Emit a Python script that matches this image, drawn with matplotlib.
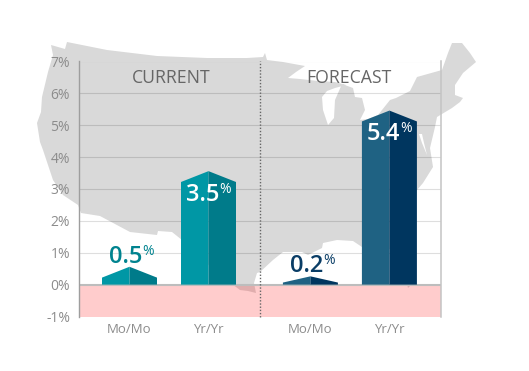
import matplotlib
matplotlib.use("Agg")
import matplotlib.pyplot as plt
from matplotlib.patches import Polygon

plt.rcParams['font.family'] = ['Open Sans', 'DejaVu Sans']

categories = ["Mo/Mo", "Yr/Yr", "Mo/Mo", "Yr/Yr"]
values = [0.5, 3.5, 0.2, 5.4]
positions = [0, 1, 2.29, 3.29]
panel_titles = ["CURRENT", "FORECAST"]
y_ticks = [-1, 0, 1, 2, 3, 4, 5, 6, 7]
y_labels = ["-1%", "0%", "1%", "2%", "3%", "4%", "5%", "6%", "7%"]

light_colors = ["#0097a5", "#0097a5", "#1f6283", "#1f6283"]
dark_colors = ["#007b8a", "#007b8a", "#00365f", "#00365f"]
label_colors = ["#00838f", "#ffffff", "#0a3d66", "#ffffff"]

W, H = 529, 371
# decorative background map outline, in image pixels
us_outline = [(67,42),(107,50),(157,56),(207,58),(247,58),(263,57),(265,53),(267,60),(283,62),(305,66),
 (296,72),(288,78),(300,79),(318,81),(335,82),(346,85),(335,88),(327,91),(322,97),(323,110),(328,125),
 (334,118),(335,100),(342,84),(353,88),(355,97),(362,98),(365,110),(360,120),(368,119),(378,115),(390,100),
 (396,98),(410,91),(417,77),(442,70),(448,53),(452,43),(462,43),(470,53),(476,62),(463,73),(455,85),(455,95),
 (463,98),(460,102),(452,108),(437,117),(435,127),(430,148),(433,167),(423,183),(417,190),(412,230),(411,285),
 (408,288),(404,270),(395,250),(375,247),(362,247),(353,241),(337,240),(323,243),(322,248),(308,255),(302,252),
 (283,252),(273,260),(260,272),(257,273),(254,283),(256,293),(248,291),(240,290),(232,284),(225,278),(205,262),
 (182,240),(172,232),(158,231),(157,235),(130,232),(100,216),(81,213),(78,205),(63,195),(53,180),(48,165),
 (43,150),(40,142),(37,123),(41,112),(42,97),(48,72),(53,55),(51,45),(65,49)]
bay = [(419,134),(422,143),(427,155),(424,143),(422,134)]

fig = plt.figure(figsize=(W/100, H/100), dpi=100, facecolor="white")

bg = fig.add_axes([0, 0, 1, 1], zorder=0)
bg.set_xlim(0, W); bg.set_ylim(H, 0); bg.axis("off")
bg.add_patch(Polygon(us_outline, closed=True, fc="#d9d9d9", ec="none"))
bg.add_patch(Polygon(bay, closed=True, fc="white", ec="none"))

left, right, top, bottom = 78.5, 441, 61.5, 316.5
ax = fig.add_axes([left/W, 1-bottom/H, (right-left)/W, (bottom-top)/H], zorder=1)
ax.patch.set_alpha(0)
unit = 79.0
ax.set_xlim(-51/unit, 311.5/unit)
ax.set_ylim(-1, 7)

ax.axhspan(-1, 0, fc="red", alpha=0.2, ec="none", zorder=1)
for t in y_ticks:
    if t > 0:
        ax.axhline(t, color="black", alpha=0.13, lw=0.8, zorder=2)
ax.axhline(0, color="#bdbdbd", lw=1.5, zorder=2)

half = 27.5/unit
for x, v, cl, cd in zip(positions, values, light_colors, dark_colors):
    apex = v + 0.06
    sh = max(apex - 0.34, apex*0.25)
    ax.fill([x-half, x-half, x, x], [0, sh, apex, 0], fc=cl, ec="none", zorder=3)
    ax.fill([x, x, x+half, x+half], [0, apex, sh, 0], fc=cd, ec="none", zorder=3)

for x, v, c in zip(positions, values, label_colors):
    inside = v > 1
    dx = 10.5 if inside else 12.5
    dy = -28 if inside else 6
    px = 72/100
    ax.annotate(f"{v:.1f}", (x, v), xytext=(dx*px, dy*px), textcoords="offset points",
                ha="right", va="baseline", fontsize=17, fontweight=600, color=c, zorder=5)
    ax.annotate("%", (x, v), xytext=((dx+0.5)*px, (dy+8)*px), textcoords="offset points",
                ha="left", va="baseline", fontsize=10, color=c, zorder=5)

ax.axvline(130/unit, color="#666666", lw=1, ls=(0, (1, 1.3)), zorder=4, clip_on=False)

for title, xs, off in zip(panel_titles, (positions[:2], positions[2:]), (2, -1.5)):
    ax.text(sum(xs)/2 + off/unit, 6.47, title, ha="center", va="center",
            fontsize=12.7, color="#666666", zorder=5)

ax.set_yticks(y_ticks)
ax.set_yticklabels(y_labels, fontsize=10, color="#8c8c8c")
ax.set_xticks(positions)
ax.set_xticklabels(categories, fontsize=9.5, color="#8c8c8c")
ax.tick_params(axis="y", length=0, pad=6)
ax.tick_params(axis="x", length=0, pad=4.5)

for s in ("top", "bottom"):
    ax.spines[s].set_visible(False)
ax.spines["left"].set_color("#9e9e9e"); ax.spines["left"].set_linewidth(1)
ax.spines["right"].set_color("#c4c4c4"); ax.spines["right"].set_linewidth(1.1)

fig.savefig("out.png", dpi=100)
